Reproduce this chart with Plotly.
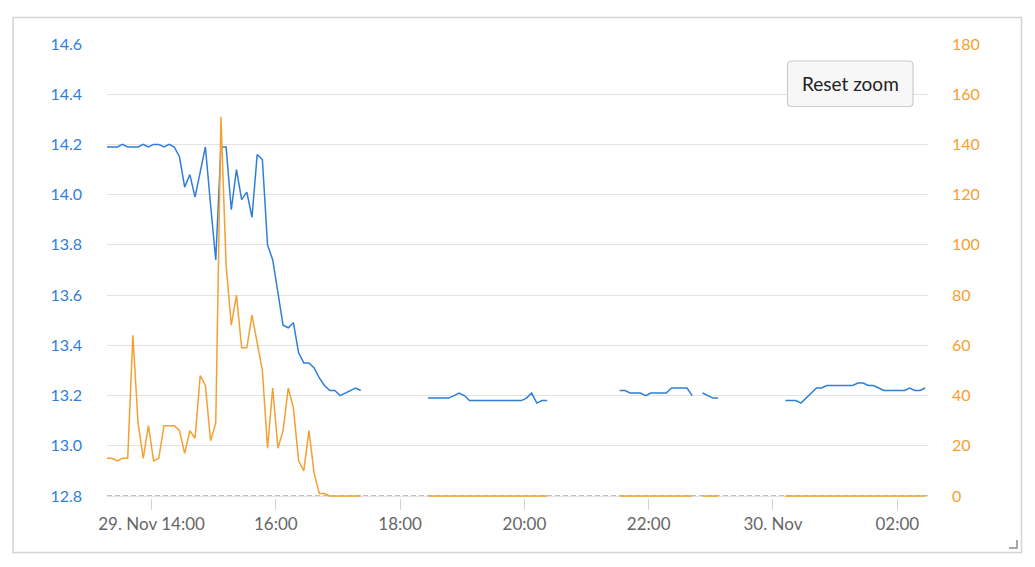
import datetime as dt
import plotly.graph_objects as go

# ---------------- data ----------------
start_time = dt.datetime(2013, 11, 29, 13, 17)
step_minutes = 5

voltage = (
    [14.19, 14.19, 14.19, 14.20, 14.19, 14.19, 14.19, 14.20, 14.19, 14.20,
     14.20, 14.19, 14.20, 14.19, 14.15, 14.03, 14.08, 13.99, 14.09, 14.19,
     13.96, 13.74, 14.19, 14.19, 13.94, 14.10, 13.98, 14.01, 13.91, 14.16,
     14.14, 13.80, 13.74, 13.61, 13.48, 13.47, 13.49, 13.37, 13.33, 13.33,
     13.31, 13.27, 13.24, 13.22, 13.22, 13.20, 13.21, 13.22, 13.23, 13.22]
    + [None] * 12
    + [13.19, 13.19, 13.19, 13.19, 13.19, 13.20, 13.21, 13.20, 13.18, 13.18,
       13.18, 13.18, 13.18, 13.18, 13.18, 13.18, 13.18, 13.18, 13.18, 13.19,
       13.21, 13.17, 13.18, 13.18]
    + [None] * 13
    + [13.22, 13.22, 13.21, 13.21, 13.21, 13.20, 13.21, 13.21, 13.21, 13.21,
       13.23, 13.23, 13.23, 13.23, 13.20]
    + [None]
    + [13.21, 13.20, 13.19, 13.19]
    + [None] * 12
    + [13.18, 13.18, 13.18, 13.17, 13.19, 13.21, 13.23, 13.23, 13.24, 13.24,
       13.24, 13.24, 13.24, 13.24, 13.25, 13.25, 13.24, 13.24, 13.23, 13.22,
       13.22, 13.22, 13.22, 13.22, 13.23, 13.22, 13.22, 13.23]
)

power = (
    [15, 15, 14, 15, 15, 64, 29, 15, 28, 14,
     15, 28, 28, 28, 26, 17, 26, 23, 48, 44,
     22, 29, 151, 92, 68, 80, 59, 59, 72, 61,
     50, 19, 43, 19, 26, 43, 35, 14, 10, 26,
     9, 1, 1, 0, 0, 0, 0, 0, 0, 0]
    + [None] * 12
    + [0] * 24
    + [None] * 13
    + [0] * 15
    + [None]
    + [0] * 4
    + [None] * 12
    + [0] * 28
)

times = [start_time + dt.timedelta(minutes=step_minutes * i) for i in range(len(voltage))]

tick_times = [dt.datetime(2013, 11, 29, 14), dt.datetime(2013, 11, 29, 16),
              dt.datetime(2013, 11, 29, 18), dt.datetime(2013, 11, 29, 20),
              dt.datetime(2013, 11, 29, 22), dt.datetime(2013, 11, 30, 0),
              dt.datetime(2013, 11, 30, 2)]
tick_labels = ["29. Nov 14:00", "16:00", "18:00", "20:00", "22:00", "30. Nov", "02:00"]

left_ticks = [12.8, 13.0, 13.2, 13.4, 13.6, 13.8, 14.0, 14.2, 14.4, 14.6]
right_ticks = [0, 20, 40, 60, 80, 100, 120, 140, 160, 180]

# ---------------- style / geometry ----------------
BLUE = "#2f7ed8"
ORANGE = "#f5a030"
FONT = "Lato"
OFF = 8                      # page body margin
W, H = 1035 - 2 * OFF, 567 - 2 * OFF
# plot area in page pixels
P_L, P_R, P_T, P_B = 107, 928, 44, 496
EXT = 2                      # extend bottom a little so the zero line is not clipped
ML = P_L - OFF
MR = W - (P_R - OFF)
MT = P_T - OFF
MB = H - (P_B + EXT - OFF)
PW, PH = W - ML - MR, H - MT - MB

per_px_left = (14.6 - 12.8) / (P_B - P_T)
per_px_right = 180 / (P_B - P_T)
left_range = [12.8 - EXT * per_px_left, 14.6]
right_range = [0 - EXT * per_px_right, 180]


def px_x(x):               # page pixel -> paper
    return (x - OFF - ML) / PW


def px_y(y):
    return (H - MB - (y - OFF)) / PH


fig = go.Figure()
fig.add_trace(go.Scatter(x=times, y=voltage, mode="lines", connectgaps=False,
                         line=dict(color=BLUE, width=1.5), yaxis="y", name="Voltage"))
fig.add_trace(go.Scatter(x=times, y=power, mode="lines", connectgaps=False,
                         line=dict(color=ORANGE, width=1.5), yaxis="y2", name="Power"))

x_end = dt.datetime(2013, 11, 30, 2, 29, 40)

shapes = [
    # white cover + dashed baseline at 12.8 / 0
    dict(type="line", xref="paper", yref="y", x0=0, x1=1, y0=12.8, y1=12.8,
         line=dict(color="white", width=2), layer="between"),
    dict(type="line", xref="paper", yref="y", x0=0, x1=1, y0=12.8, y1=12.8,
         line=dict(color="#aaaaaa", width=1.5, dash="5px,3px"), layer="between"),
    # outer border
    dict(type="rect", xref="paper", yref="paper",
         x0=px_x(13), x1=px_x(1021.5), y0=px_y(552.5), y1=px_y(17.5),
         line=dict(color="#d4d4d4", width=1.5), fillcolor="rgba(0,0,0,0)", layer="above"),
    # resize handle
    dict(type="path", xref="paper", yref="paper",
         path=f"M {px_x(1017)} {px_y(540)} L {px_x(1017)} {px_y(548)} L {px_x(1009)} {px_y(548)}",
         line=dict(color="#a8a8a8", width=2), layer="above"),
]

# Reset zoom button with rounded corners
bx0, bx1, by0, by1, r = 787.5, 913, 61, 106.5, 4
path = (f"M {px_x(bx0 + r)} {px_y(by0)} L {px_x(bx1 - r)} {px_y(by0)} "
        f"Q {px_x(bx1)} {px_y(by0)} {px_x(bx1)} {px_y(by0 + r)} "
        f"L {px_x(bx1)} {px_y(by1 - r)} Q {px_x(bx1)} {px_y(by1)} {px_x(bx1 - r)} {px_y(by1)} "
        f"L {px_x(bx0 + r)} {px_y(by1)} Q {px_x(bx0)} {px_y(by1)} {px_x(bx0)} {px_y(by1 - r)} "
        f"L {px_x(bx0)} {px_y(by0 + r)} Q {px_x(bx0)} {px_y(by0)} {px_x(bx0 + r)} {px_y(by0)} Z")
shapes.append(dict(type="path", xref="paper", yref="paper", path=path,
                   line=dict(color="#cccccc", width=1.2), fillcolor="#f7f7f7", layer="above"))

fig.update_layout(
    width=W, height=H,
    margin=dict(l=ML, r=MR, t=MT, b=MB, pad=0),
    paper_bgcolor="white", plot_bgcolor="white",
    showlegend=False,
    font=dict(family=FONT, size=16, color="#666666"),
    xaxis=dict(type="date", range=[times[0], x_end], tickmode="array",
               tickvals=tick_times, ticktext=tick_labels,
               showgrid=False, zeroline=False, showline=False,
               ticks="outside", ticklen=11, tickwidth=1, tickcolor="#c8d4e6",
               tickfont=dict(family=FONT, size=17, color="#666666")),
    yaxis=dict(range=left_range, tickmode="array", tickvals=left_ticks,
               ticktext=[f"{v:.1f}" for v in left_ticks],
               showgrid=True, gridcolor="#e3e3e3", gridwidth=1,
               zeroline=False, showline=False, ticks="", ticklabelstandoff=24,
               tickfont=dict(family=FONT, size=16, color=BLUE)),
    yaxis2=dict(range=right_range, tickmode="array", tickvals=right_ticks,
                overlaying="y", side="right", showgrid=False, zeroline=False,
                showline=False, ticks="", ticklabelstandoff=23,
                tickfont=dict(family=FONT, size=16, color=ORANGE)),
    shapes=shapes,
    annotations=[dict(xref="paper", yref="paper", x=px_x((bx0 + bx1) / 2),
                      y=px_y((by0 + by1) / 2), text="Reset zoom", showarrow=False,
                      font=dict(family=FONT, size=19, color="#222222"),
                      xanchor="center", yanchor="middle")],
)

fig.write_html("out.html")
